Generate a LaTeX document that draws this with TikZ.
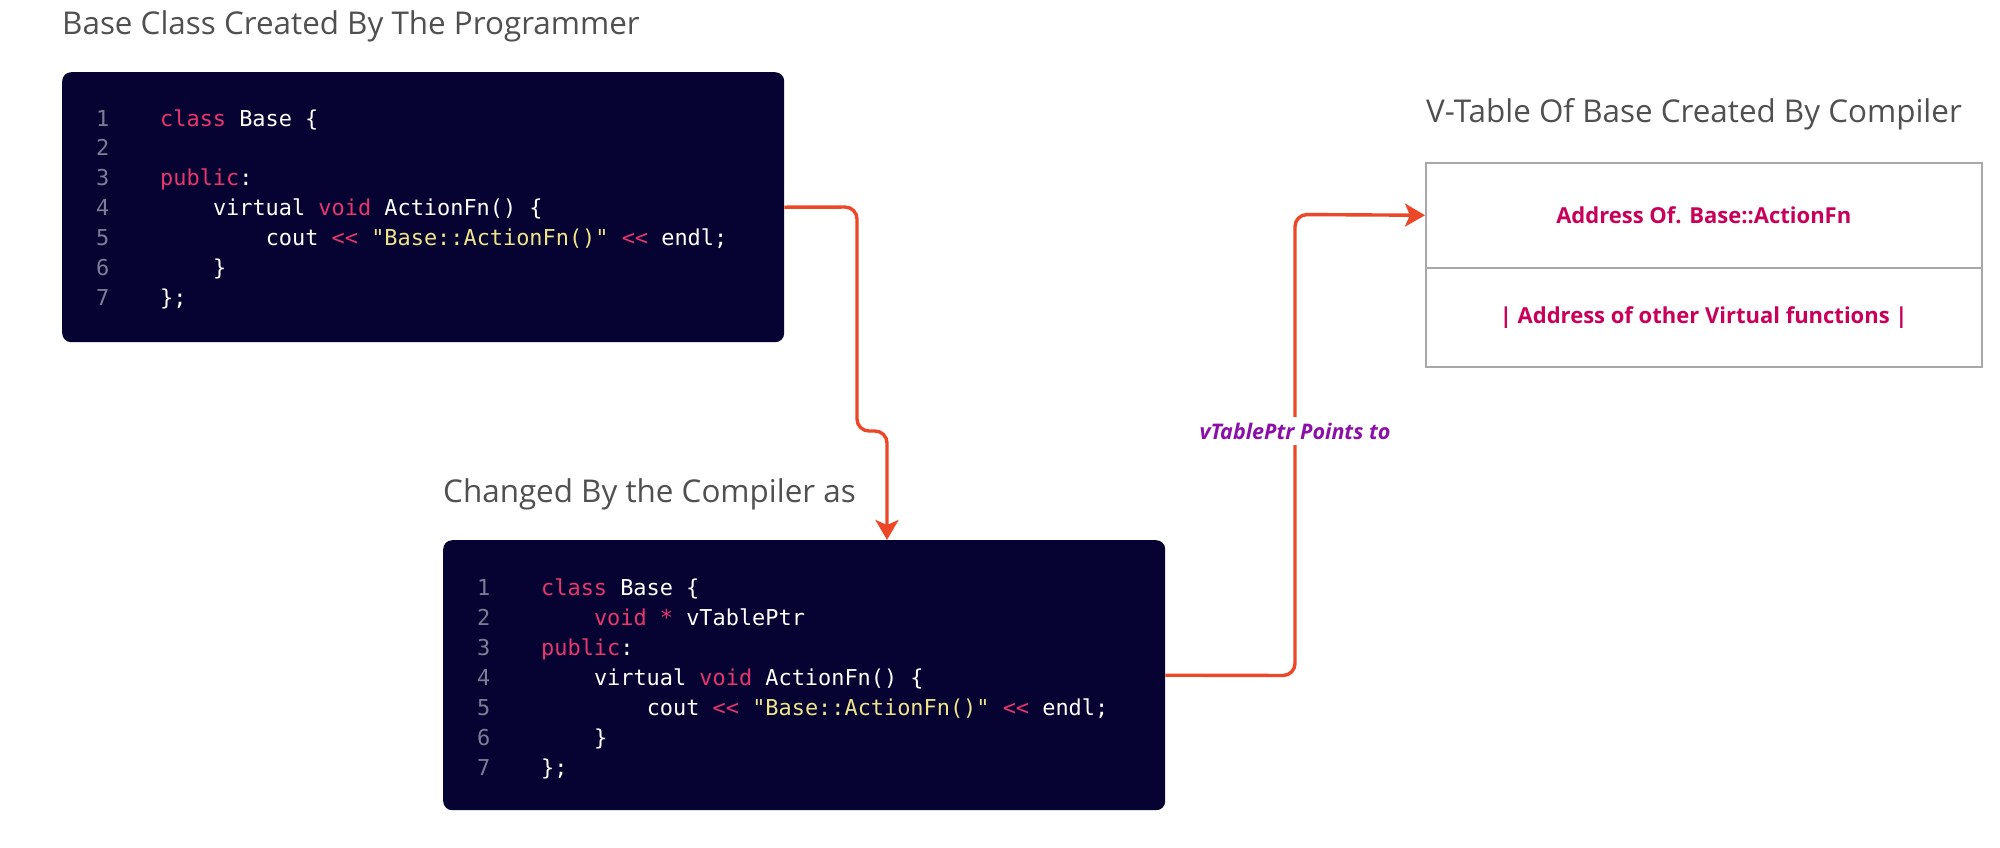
\documentclass[tikz,border=0pt]{standalone}
\usepackage{fontspec}
\setmainfont{Open Sans}
\newfontfamily\codefont{DejaVu Sans Mono}
\usetikzlibrary{arrows.meta}
\definecolor{codebg}{RGB}{6,2,50}
\definecolor{kwc}{RGB}{232,54,110}
\definecolor{strc}{RGB}{238,229,138}
\definecolor{numc}{RGB}{125,125,150}
\definecolor{titlec}{RGB}{80,80,80}
\definecolor{arrc}{RGB}{236,72,40}
\definecolor{cellc}{RGB}{200,0,90}
\definecolor{labc}{RGB}{138,16,168}
\definecolor{tabline}{RGB}{168,168,168}
\newcommand\kw[1]{\textcolor{kwc}{#1}}
\newcommand\cstr[1]{\textcolor{strc}{#1}}
\tikzset{
  codebox/.style={fill=codebg, rounded corners=9pt, minimum width=722pt, minimum height=270pt, anchor=north west, inner sep=0pt},
  lnum/.style={anchor=base west, inner sep=0pt, text=numc, font=\codefont\fontsize{21.9}{26}\selectfont},
  cline/.style={anchor=base west, inner sep=0pt, text=white, font=\codefont\fontsize{21.9}{26}\selectfont},
  titlebox/.style={anchor=base west, inner sep=0pt, text=titlec, font=\fontsize{31.4}{38}\selectfont},
  cellbox/.style={draw=tabline, line width=1.5pt, minimum width=556pt, anchor=north west, inner sep=0pt, text=cellc, font=\bfseries\fontsize{22}{26}\selectfont},
  arr/.style={draw=arrc, line width=3.4pt, rounded corners=12pt, -{Stealth[length=20pt,width=23pt,inset=5pt]}},
  lab/.style={fill=white, text=labc, inner xsep=3pt, inner ysep=6pt, font=\bfseries\itshape\fontsize{21.5}{26}\selectfont}
}
\begin{document}
\begin{tikzpicture}[x=1pt,y=-1pt]
\useasboundingbox (0,0) rectangle (2000,847);
\fill[white] (0,0) rectangle (2000,847);
% titles
\node[titlebox] (t1) at (62,34) {Base Class Created By The Programmer};
\node[titlebox] (t2) at (443,502) {Changed By the Compiler as};
\node[titlebox] (t3) at (1426,122) {V-Table Of Base Created By Compiler};
% box 1
\node[codebox] (box1) at (62,72) {};
\foreach \i in {1,...,7} {
  \node[lnum] (a\i) at (96,{126+(\i-1)*29.9}) {\i};
}
\node[cline] (a1c) at (160,126) {\kw{class} Base \{};
\node[cline] (a3c) at (160,185.8) {\kw{public}:};
\node[cline] (a4c) at (212.8,215.7) {virtual \kw{void} ActionFn() \{};
\node[cline] (a5c) at (265.6,245.6) {cout \kw{<{}<} \cstr{"Base::ActionFn()"} \kw{<{}<} endl;};
\node[cline] (a6c) at (212.8,275.5) {\}};
\node[cline] (a7c) at (160,305.4) {\};};
% box 2
\node[codebox] (box2) at (443,540) {};
\foreach \i in {1,...,7} {
  \node[lnum] (b\i) at (477,{595+(\i-1)*30}) {\i};
}
\node[cline] (b1c) at (541,595) {\kw{class} Base \{};
\node[cline] (b2c) at (593.8,625) {\kw{void} \kw{*} vTablePtr};
\node[cline] (b3c) at (541,655) {\kw{public}:};
\node[cline] (b4c) at (593.8,685) {virtual \kw{void} ActionFn() \{};
\node[cline] (b5c) at (646.6,715) {cout \kw{<{}<} \cstr{"Base::ActionFn()"} \kw{<{}<} endl;};
\node[cline] (b6c) at (593.8,745) {\}};
\node[cline] (b7c) at (541,775) {\};};
% table
\node[cellbox, minimum height=105pt] (cell1) at (1425,162) {Address Of. Base::ActionFn};
\node[cellbox, minimum height=99pt] (cell2) at (1425,267) {| Address of other Virtual functions |};
% connectors
\coordinate (in2) at (887,540);
\draw[arr] (box1.east) -- (857,207) -- (857,431) -- (887,431) -- (in2);
\draw[arr] (box2.east) -- (1295,675.5) -- (1295,214.5) -- (cell1.west);
\node[lab] (lbl) at (1295,431) {vTablePtr Points to};
\end{tikzpicture}
\end{document}
